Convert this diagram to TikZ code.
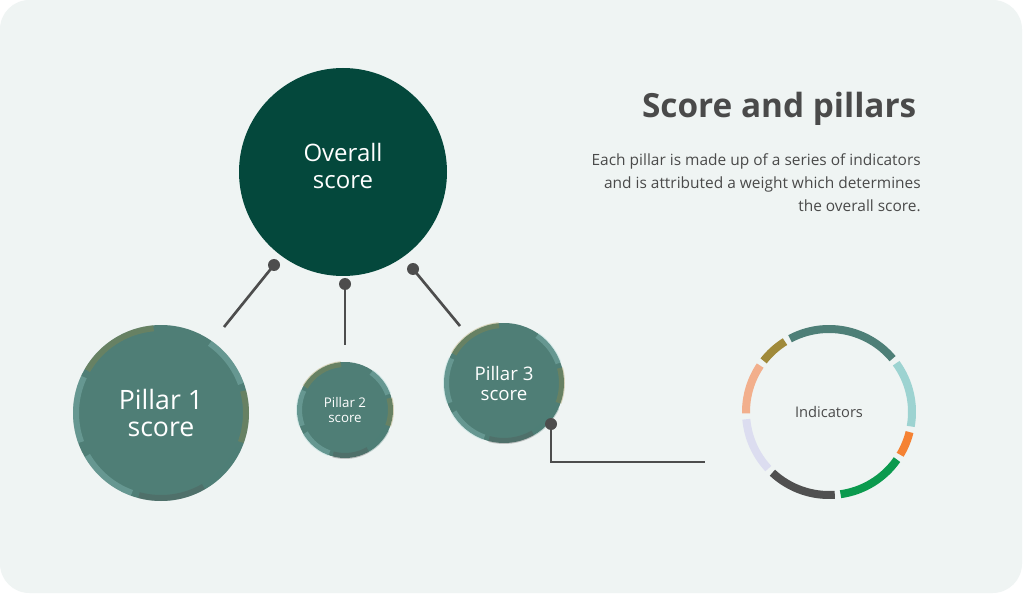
\documentclass[tikz,border=0pt]{standalone}
\usepackage{fontspec}
\setmainfont{Open Sans}
\usetikzlibrary{positioning,calc}
\definecolor{bgcard}{HTML}{EFF4F3}
\definecolor{deepgreen}{HTML}{04483C}
\definecolor{pillarfill}{HTML}{4F7E76}
\definecolor{ink}{HTML}{4A4A4A}
\definecolor{linegray}{HTML}{4D4D4D}
\definecolor{segteal}{HTML}{4E7F77}
\definecolor{seglight}{HTML}{9DD3D1}
\definecolor{segorange}{HTML}{F58233}
\definecolor{seggreen}{HTML}{0B9A4E}
\definecolor{seggray}{HTML}{505050}
\definecolor{seglav}{HTML}{DCDDF0}
\definecolor{segpeach}{HTML}{F2AF8C}
\definecolor{segolive}{HTML}{A08A3A}

\begin{document}
\begin{tikzpicture}[
    x=0.75pt, y=-0.75pt,
    score/.style={circle, fill=pillarfill, text=white, align=center, inner sep=0pt},
    dot/.style={circle, fill=linegray, minimum size=9pt, inner sep=0pt},
    link/.style={draw=linegray, line width=2pt},
    rim/.style={line width=4.5pt, opacity=0.3}
]

% Card
\useasboundingbox (0,0) rectangle (1024,595);
\fill[white] (0,0) rectangle (1024,595);
\fill[bgcard, rounded corners=22pt] (0,0) rectangle (1022,593);

% Overall score
\node[circle, fill=deepgreen, minimum size=156pt, text=white, align=center,
      font=\fontsize{18}{20}\selectfont] (overall) at (343,172) {};
\node[text=white, align=center, font=\fontsize{18}{20}\selectfont] at (343,166) {Overall\\score};

% Pillars
\node[score, minimum size=132pt, font=\fontsize{20}{20}\selectfont] (p1) at (161,413) {Pillar 1\\score};
\node[score, minimum size=72pt, font=\fontsize{10}{11}\selectfont] (p2) at (345,410) {Pillar 2\\score};
\node[score, minimum size=90pt, font=\fontsize{14}{15}\selectfont] (p3) at (504,383) {Pillar 3\\score};

% Pillar rims
\foreach \c/\a/\b in {segolive/-95/-150, seglight/-155/-200, seglight/-210/-250, seggray/-255/-300,
                      segteal/-300/-335, segolive/-340/-375, seglight/-20/-55}{
  \draw[rim, \c] ($(p1)+(\a:85)$) arc[start angle=\a, end angle=\b, radius=85];
  \draw[rim, \c] ($(p2)+(\a:46)$) arc[start angle=\a, end angle=\b, radius=46];
  \draw[rim, \c] ($(p3)+(\a:58)$) arc[start angle=\a, end angle=\b, radius=58];
}

% Links
\node[dot] (d1) at (274,265) {};
\node[dot] (d2) at (345,284) {};
\node[dot] (d3) at (413,269) {};
\node[dot] (d4) at (551,424) {};
\coordinate (e1) at (224,327);
\coordinate (e2) at (345,345);
\coordinate (e3) at (460,326);
\coordinate (e4) at (705,462);
\draw[link] (d1.center) -- (e1);
\draw[link] (d2.center) -- (e2);
\draw[link] (d3.center) -- (e3);
\draw[link] (d4.center) |- (e4);

% Indicators ring (angles mirrored by the flipped y axis)
\node[text=ink, font=\fontsize{11}{12}\selectfont] (ind) at (829,412) {Indicators};
\foreach \c/\a/\b in {segteal/-118/-40, seglight/-36/10, segorange/14/31, seggreen/35/82,
                      seggray/86/133, seglav/137/175, segpeach/179/214, segolive/218/238}{
  \draw[\c, line width=6pt] ($(ind)+(\a:83)$) arc[start angle=\a, end angle=\b, radius=83];
}

% Title and caption
\node[anchor=base east, text=ink, font=\fontsize{25}{28}\selectfont\bfseries] (title) at (921,118) {Score and pillars};
\node[align=right, text=ink, inner sep=0pt, font=\fontsize{11.6}{17.3}\selectfont,
      below=17pt of title.south east, anchor=north east] (caption)
  {Each pillar is made up of a series of indicators\\
   and is attributed a weight which determines\\
   the overall score.};

\end{tikzpicture}
\end{document}
